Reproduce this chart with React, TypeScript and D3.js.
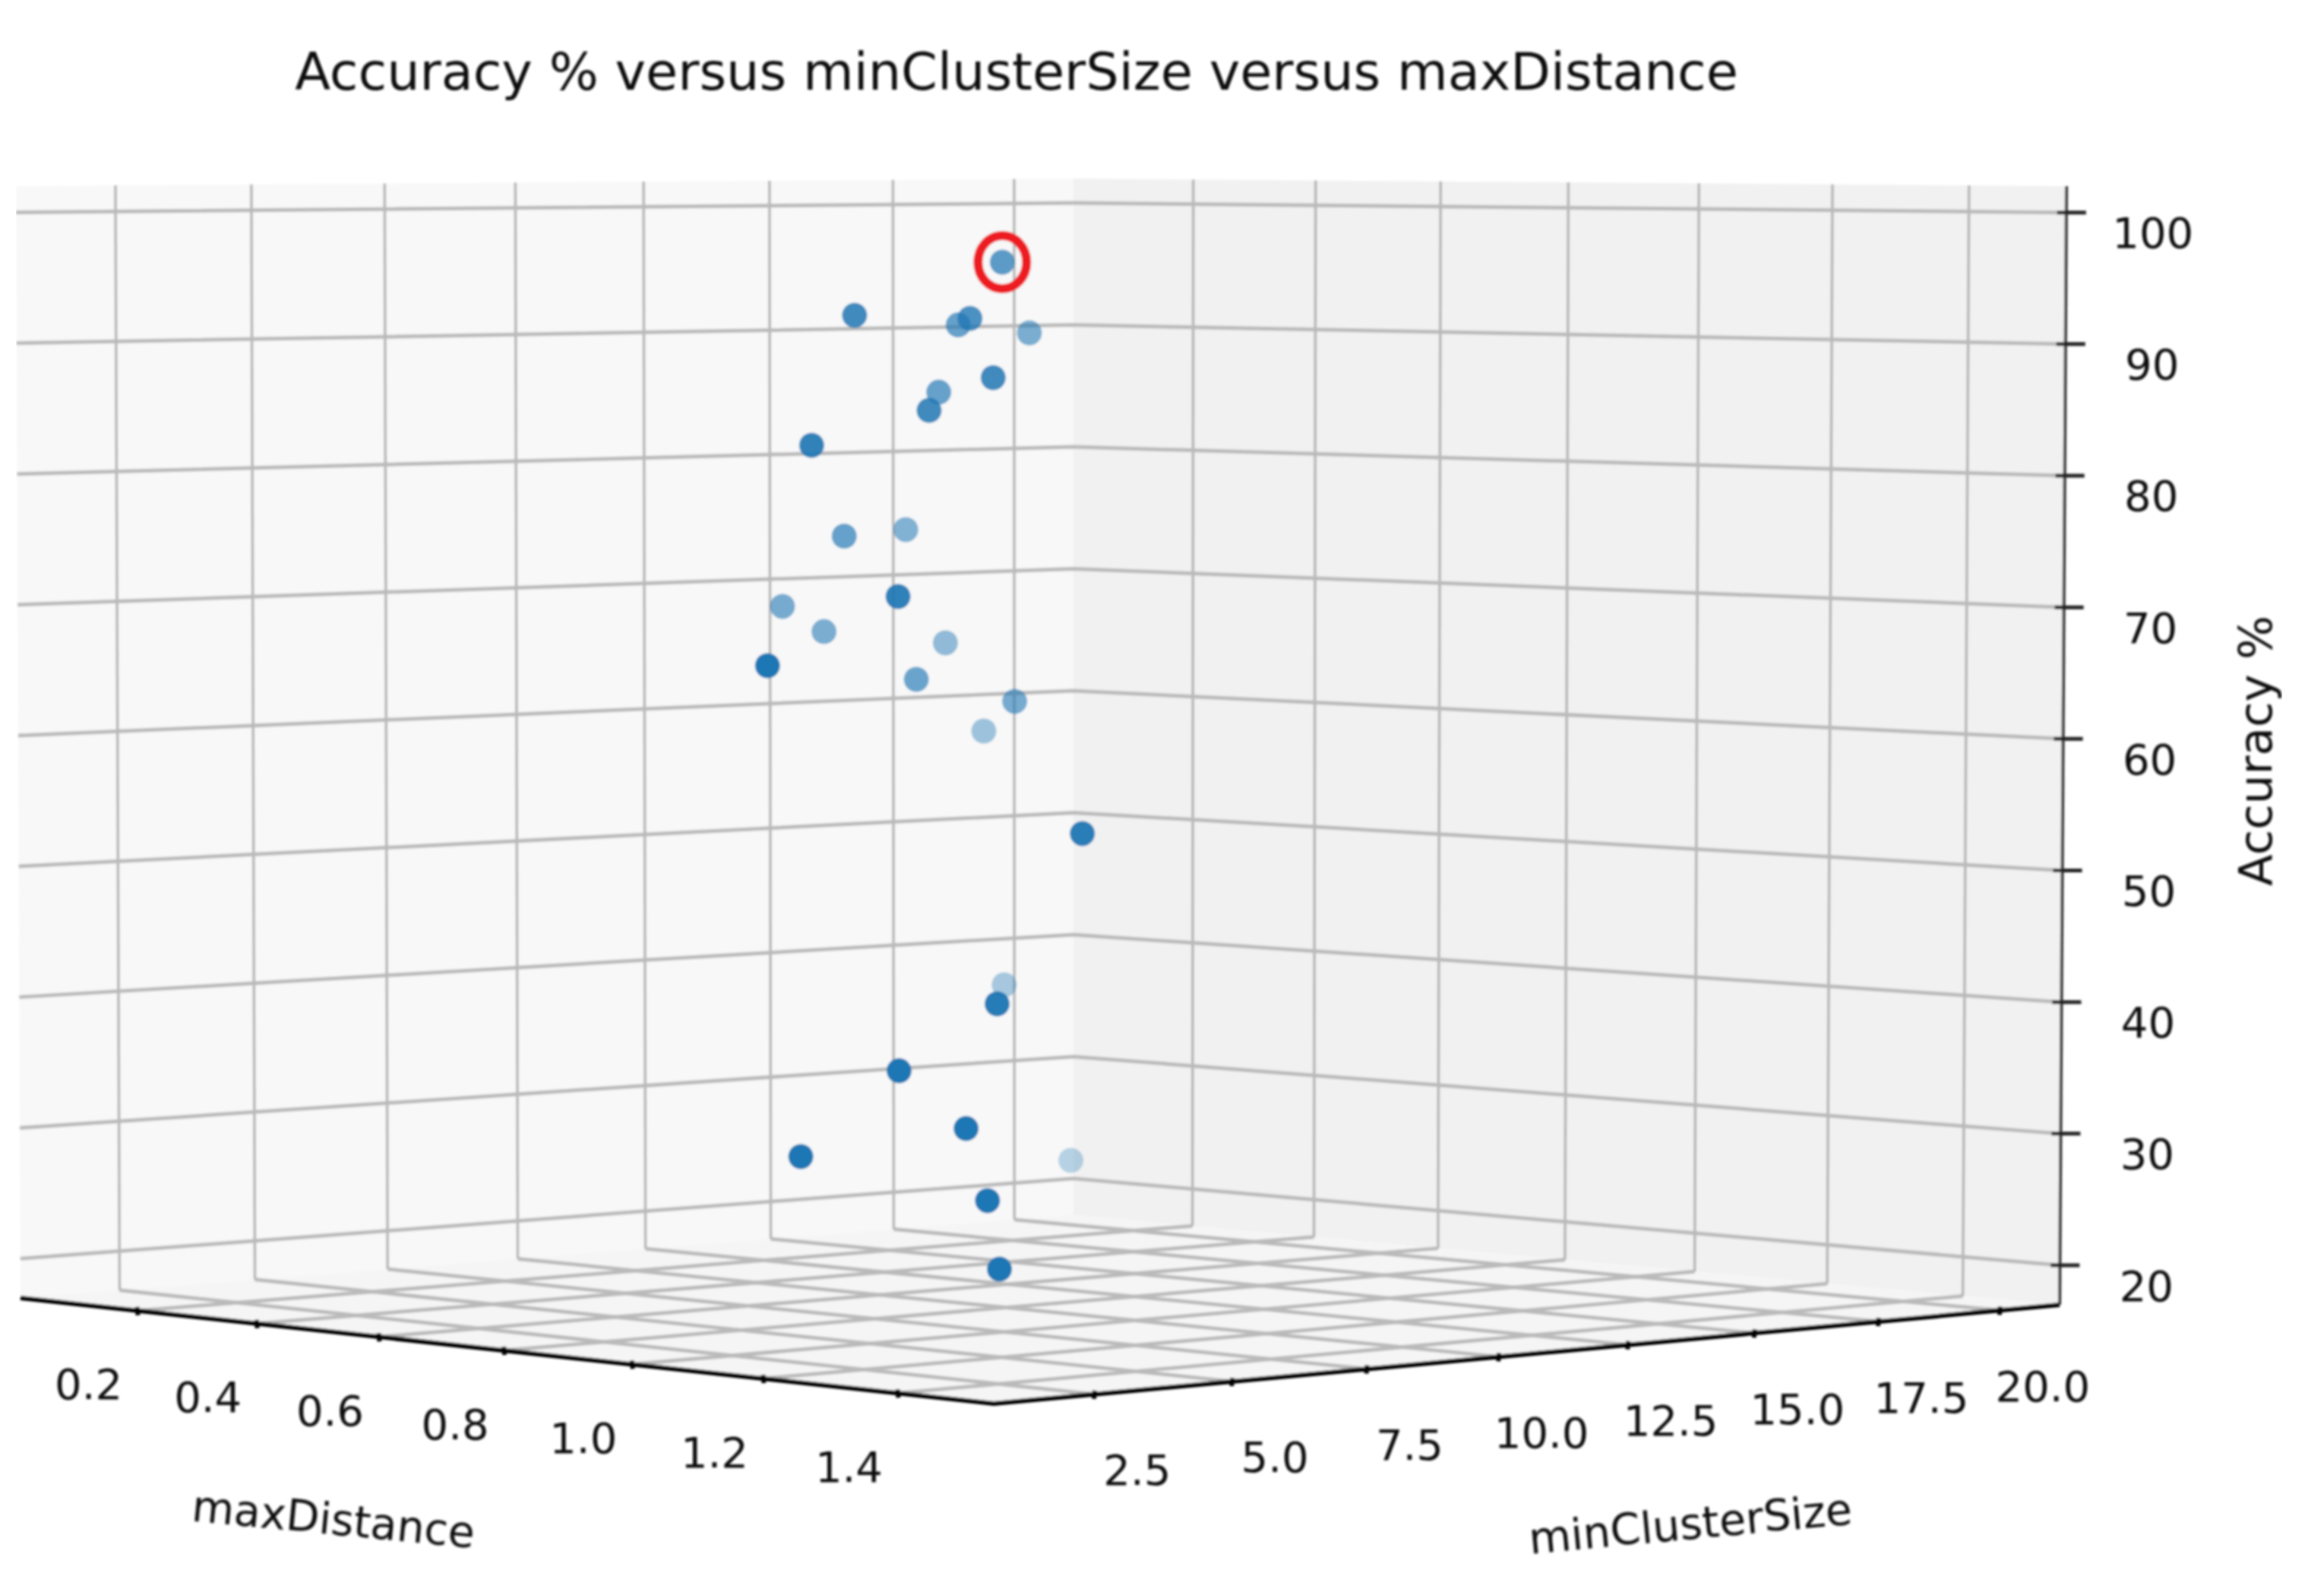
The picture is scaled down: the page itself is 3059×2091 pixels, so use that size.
import * as d3 from 'd3';

const W = 3059, H = 2091;
const maxDistTicks = [0.2, 0.4, 0.6, 0.8, 1.0, 1.2, 1.4];
const maxDistLabels = ['0.2', '0.4', '0.6', '0.8', '1.0', '1.2', '1.4'];
const clusterTicks = [2.5, 5, 7.5, 10, 12.5, 15, 17.5, 20];
const clusterLabels = ['2.5', '5.0', '7.5', '10.0', '12.5', '15.0', '17.5', '20.0'];
const accTicks = [20, 30, 40, 50, 60, 70, 80, 90, 100];

const maxDistance = [0.849, 0.923, 0.76, 0.937, 0.674, 1.024, 0.746, 0.977, 0.991, 0.675, 0.538, 1.067, 0.515, 0.518, 0.47, 1.073, 0.687, 0.691, 0.416, 1.228, 0.376, 1.195, 1.167, 1.215, 1.097, 0.317, 1.23, 1.239];
const minClusterSize = [9.31, 5.64, 9.56, 7.62, 11.99, 6.99, 9.36, 6.37, 4.04, 8.42, 11.25, 4.71, 9.15, 9.91, 12.85, 2.27, 9.65, 11.5, 14.27, 6.14, 15.17, 4.98, 3.53, 4.17, 2.59, 17.25, 4.38, 4.49];
const accuracy = [96.35, 92.65, 91.51, 92.3, 90.65, 88.03, 86.41, 85.6, 83.27, 75.48, 75.38, 72.22, 69.71, 67.67, 66.24, 67.56, 64.43, 62.45, 58.98, 55.02, 38.69, 42.75, 38.16, 33.98, 31.91, 23.98, 28.75, 23.78];
const bestIndex = 0;

type P = [number, number];
const L: P = [27, 1708], F: P = [1308, 1847], R: P = [2711, 1717], B: P = [1413, 1599];
const LT: P = [21, 245], RT: P = [2720, 245], BT: P = [1413, 235];

// floor homography weights, the roof shares them
const dx1 = F[0] - R[0], dx2 = B[0] - R[0], sx = L[0] - F[0] + R[0] - B[0];
const dy1 = F[1] - R[1], dy2 = B[1] - R[1], sy = L[1] - F[1] + R[1] - B[1];
const det = dx1 * dy2 - dx2 * dy1;
const g = (sx * dy2 - dx2 * sy) / det, h = (dx1 * sy - sx * dy1) / det;
const wF = 1 + g, wB = 1 + h, wR = 1 + g + h;
const FT: P = [(RT[0] * wR - BT[0] * wB + LT[0]) / wF, (RT[1] * wR - BT[1] * wB + LT[1]) / wF];

const quad = (p00: P, p10: P, p01: P) => (u: number, v: number): P => {
  const w = g * u + h * v + 1;
  return [
    ((p10[0] * wF - p00[0]) * u + (p01[0] * wB - p00[0]) * v + p00[0]) / w,
    ((p10[1] * wF - p00[1]) * u + (p01[1] * wB - p00[1]) * v + p00[1]) / w,
  ];
};
const floor = quad(L, F, B);
const roof = quad(LT, FT, BT);
const project = (a: number, b: number, c: number): P => {
  const f = floor(a, b), r = roof(a, b);
  return [f[0] + (r[0] - f[0]) * c, f[1] + (r[1] - f[1]) * c];
};

const aS = d3.scaleLinear([0, 1.54], [0, 1]);
const bS = d3.scaleLinear([0.7, 21.24], [0, 1]);
const cS = d3.scaleLinear([17, 102], [0, 1]);

// depth shading: nearer points are more opaque, as mplot3d does it
const depth = maxDistance.map((m, i) => aS(m) - bS(minClusterSize[i]));
const alpha = d3.scaleLinear(d3.extent(depth) as [number, number], [0.3, 1]);
const order = d3.range(depth.length).sort((i, j) => depth[i] - depth[j]);

const line = d3.line();
const vGrid = { stroke: '#b4b4b4', strokeWidth: 3.5, fill: 'none' };
const hGrid = { stroke: '#bababa', strokeWidth: 5, fill: 'none' };
const tickText = { fontSize: 56, fill: '#111', textAnchor: 'middle' as const, dominantBaseline: 'central' as const };
const axisTitle = { fontSize: 57, fill: '#111', textAnchor: 'middle' as const, dominantBaseline: 'central' as const };

export default function App() {
  const best = project(aS(maxDistance[bestIndex]), bS(minClusterSize[bestIndex]), cS(accuracy[bestIndex]));
  return (
    <svg width={W} height={H} style={{ position: 'absolute', left: 0, top: 0 }} fontFamily="DejaVu Sans">
      <defs>
        <filter id="soft" x="0" y="0" width="100%" height="100%">
          <feGaussianBlur stdDeviation="1.6" />
        </filter>
      </defs>
      <rect width={W} height={H} fill="#fff" />
      <g filter="url(#soft)">
        <text x={1338} y={94} fontSize={68.5} fill="#111" textAnchor="middle" dominantBaseline="central">
          Accuracy % versus minClusterSize versus maxDistance
        </text>

        {/* panes */}
        <path d={line([L, B, BT, LT])! + 'Z'} fill="#f8f8f8" />
        <path d={line([B, R, RT, BT])! + 'Z'} fill="#f1f1f1" />
        <path d={line([L, F, R, B])! + 'Z'} fill="#f5f5f5" />

        {/* grid: floor parts and wall parts */}
        {clusterTicks.map(t => (
          <g key={t}>
            <path {...hGrid} d={line([project(1, bS(t), 0), project(0, bS(t), 0)])!} />
            <path {...vGrid} d={line([project(0, bS(t), 0), project(0, bS(t), 1)])!} />
          </g>
        ))}
        {maxDistTicks.map(t => (
          <g key={t}>
            <path {...hGrid} d={line([project(aS(t), 0, 0), project(aS(t), 1, 0)])!} />
            <path {...vGrid} d={line([project(aS(t), 1, 0), project(aS(t), 1, 1)])!} />
          </g>
        ))}
        {accTicks.map(t => (
          <path key={t} {...hGrid} d={line([project(0, 0, cS(t)), project(0, 1, cS(t)), project(1, 1, cS(t))])!} />
        ))}

        {/* axes */}
        <path d={line([L, F, R])!} fill="none" stroke="#000" strokeWidth={6} />
        <path d={line([R, RT])!} fill="none" stroke="#333" strokeWidth={4} />
        {maxDistTicks.map((t, i) => {
          const p = project(aS(t), 0, 0);
          return (
            <g key={t}>
              <path d={line([[p[0], p[1] - 5], [p[0] + 1, p[1] + 6]])!} stroke="#000" strokeWidth={6} />
              <text {...tickText} x={p[0] - 64} y={p[1] + 97}>{maxDistLabels[i]}</text>
            </g>
          );
        })}
        {clusterTicks.map((t, i) => {
          const p = project(1, bS(t), 0);
          return (
            <g key={t}>
              <path d={line([[p[0], p[1] - 5], [p[0] - 1, p[1] + 6]])!} stroke="#000" strokeWidth={6} />
              <text {...tickText} x={p[0] + 56} y={p[1] + 100}>{clusterLabels[i]}</text>
            </g>
          );
        })}
        {accTicks.map(t => {
          const p = project(1, 1, cS(t));
          return (
            <g key={t}>
              <path d={line([[p[0] - 12, p[1]], [p[0] + 26, p[1]]])!} stroke="#222" strokeWidth={5} />
              <text {...tickText} x={p[0] + 114} y={p[1] + 27}>{t}</text>
            </g>
          );
        })}
        <text {...axisTitle} x={439} y={1999} transform="rotate(5.5 439 1999)">maxDistance</text>
        <text {...axisTitle} x={2225} y={2005} transform="rotate(-5.3 2225 2005)">minClusterSize</text>
        <text {...axisTitle} fontSize={61} x={2968} y={988} transform="rotate(-90 2968 988)">Accuracy %</text>

        {/* points */}
        {order.map(i => {
          const p = project(aS(maxDistance[i]), bS(minClusterSize[i]), cS(accuracy[i]));
          return <circle key={i} cx={p[0]} cy={p[1]} r={16.5} fill="#1f77b4" fillOpacity={alpha(depth[i])} />;
        })}
        <ellipse cx={best[0]} cy={best[1]} rx={32} ry={35} fill="none" stroke="#ed1c24" strokeWidth={12} />
      </g>
    </svg>
  );
}
